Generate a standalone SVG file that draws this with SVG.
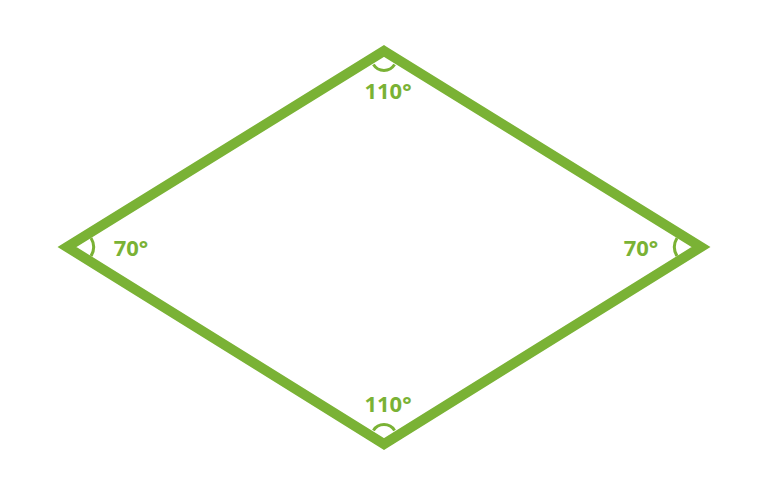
<svg xmlns="http://www.w3.org/2000/svg" width="768" height="499" viewBox="0 0 768 499">
<style>
.edge{fill:none;stroke:#7ab235;stroke-width:10;stroke-linejoin:miter;stroke-miterlimit:10}
.arc{fill:none;stroke:#7ab235;stroke-width:3}
.lbl{font-family:"Open Sans","Liberation Sans",sans-serif;font-weight:bold;font-size:22px;fill:#7ab235;text-anchor:middle}
</style>
<rect width="768" height="499" fill="#ffffff"/>
<g id="rhombus">
<polygon class="edge" points="384,51 701,247 384,444 67,247"/>
</g>
<g id="angle-top">
<path class="arc" d="M373.4,64.5 A12.5,12.5 0 0 0 394.6,64.5"/>
<text class="lbl" x="388" y="99">110°</text>
</g>
<g id="angle-left">
<path class="arc" d="M91,238 A17.5,17.5 0 0 1 91,256"/>
<text class="lbl" x="131" y="256">70°</text>
</g>
<g id="angle-right">
<path class="arc" d="M677,238 A17.5,17.5 0 0 0 677,256"/>
<text class="lbl" x="641" y="256">70°</text>
</g>
<g id="angle-bottom">
<path class="arc" d="M373.4,430.5 A12.5,12.5 0 0 1 394.6,430.5"/>
<text class="lbl" x="388" y="412">110°</text>
</g>
</svg>
